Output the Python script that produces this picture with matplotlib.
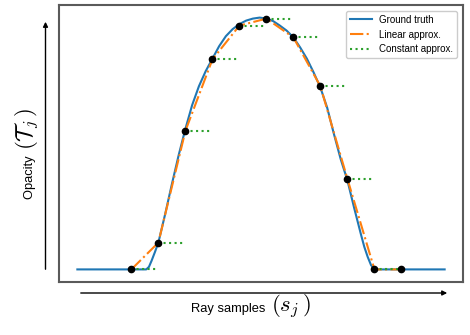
import matplotlib
matplotlib.use("Agg")
import matplotlib.pyplot as plt

plt.rcParams['font.family'] = ['Liberation Sans', 'DejaVu Sans']
plt.rcParams['mathtext.fontset'] = 'cm'

gt_x = [0, 2.55, 2.65, 2.75, 2.875, 3.0, 3.25, 3.5, 3.75, 4.0, 4.25, 4.5, 4.75,
        5.0, 5.25, 5.5, 5.75, 6.0, 6.25, 6.5, 6.75, 7.0, 7.25, 7.5, 7.75, 8.0,
        8.25, 8.5, 8.75, 9.0, 9.25, 9.5, 9.75, 10.0, 10.25, 10.5, 10.625, 10.75,
        10.875, 11.0, 13.6]
gt_y = [0, 0, 0.01, 0.035, 0.07, 0.107, 0.22, 0.34, 0.455, 0.56, 0.655, 0.73, 0.79,
        0.84, 0.89, 0.93, 0.958, 0.978, 0.992, 1.0, 1.004, 1.0, 0.99, 0.972, 0.952, 0.925,
        0.885, 0.84, 0.785, 0.725, 0.645, 0.54, 0.44, 0.355, 0.245, 0.14, 0.09, 0.05,
        0.017, 0, 0]

# Ray samples
samp_x = [2, 3, 4, 5, 6, 7, 8, 9, 10, 11, 12]
samp_y = [0, 0.107, 0.552, 0.837, 0.972, 1.0, 0.925, 0.730, 0.361, 0, 0]

labels = ["Ground truth", "Linear approx.", "Constant approx."]

fig = plt.figure(figsize=(4.7, 3.35), dpi=100)
ax = fig.add_axes([59/470, (335-282)/335, 404/470, 277/335])

ax.plot(gt_x, gt_y, color='#1f77b4', lw=1.5, label=labels[0], zorder=2)
ax.plot(samp_x, samp_y, color='#ff7f0e', lw=1.5, ls='-.', label=labels[1], zorder=3)
for i in range(len(samp_x) - 1):
    ax.plot([samp_x[i], samp_x[i + 1]], [samp_y[i], samp_y[i]], color='#2ca02c',
            lw=1.5, ls=':', label=labels[2] if i == 0 else None, zorder=4)
ax.plot(samp_x, samp_y, 'o', color='black', ms=4.5, zorder=5)

ax.set_xticks([])
ax.set_yticks([])
for s in ax.spines.values():
    s.set_color('#5a5a5a')
    s.set_linewidth(1.5)

ax.legend(loc='upper right', fontsize=7, handlelength=2.2, borderaxespad=0.6,
          framealpha=1.0)

# Axis arrows outside the plot
fig.patches.append(matplotlib.patches.FancyArrowPatch(
    (78/470, (335-293)/335), (450/470, (335-293)/335), transform=fig.transFigure,
    arrowstyle='-|>', mutation_scale=7, color='black', lw=1.0))
fig.patches.append(matplotlib.patches.FancyArrowPatch(
    (45.5/470, (335-272)/335), (45.5/470, (335-19)/335), transform=fig.transFigure,
    arrowstyle='-|>', mutation_scale=7, color='black', lw=1.0))

# x label
fig.text(269/470, (335-312)/335, "Ray samples ", ha='right', va='baseline', fontsize=9.3)
fig.text(271/470, (335-312)/335, r"$(s_j\,)$", ha='left', va='baseline', fontsize=16.5)

# y label
fig.text(33/470, (335-152)/335, "Opacity ", ha='right', va='baseline', fontsize=9.3,
         rotation=90, rotation_mode='anchor')
fig.text(33/470, (335-150)/335, r"$(\mathcal{T}_j\,)$", ha='left', va='baseline',
         fontsize=16.5, rotation=90, rotation_mode='anchor')

fig.savefig("out.png", dpi=100)
